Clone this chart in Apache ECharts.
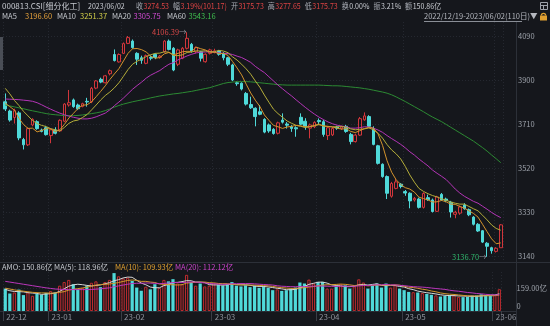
<!DOCTYPE html>
<html>
<head>
<meta charset="utf-8">
<script src="https://cdn.jsdelivr.net/npm/echarts@6/dist/echarts.min.js"></script>
<style>
html,body{margin:0;padding:0;background:#15171c;}
#chart{width:550px;height:326px;}
</style>
</head>
<body>
<div id="chart"></div>
<script>
// Trading calendar, one row per month
const tradingDays = [
  ['2022-12', [19,20,21,22,23,26,27,28,29,30]],
  ['2023-01', [3,4,5,6,9,10,11,12,13,16,17,18,19,20,30,31]],
  ['2023-02', [1,2,3,6,7,8,9,10,13,14,15,16,17,20,21,22,23,24,27,28]],
  ['2023-03', [1,2,3,6,7,8,9,10,13,14,15,16,17,20,21,22,23,24,27,28,29,30,31]],
  ['2023-04', [3,4,6,7,10,11,12,13,14,17,18,19,20,21,24,25,26,27,28]],
  ['2023-05', [4,5,8,9,10,11,12,15,16,17,18,19,22,23,24,25,26,29,30,31]],
  ['2023-06', [1,2]]
];
const monthLabels = ['22-12','23-01','23-02','23-03','23-04','23-05','23-06'];
const priceTicks = [3140, 3330, 3520, 3710, 3900, 4090];
const amoTicks = [0, 159];

const opens = [3806,3766,3738,3758,3643,3620,3706,3720,3684,3694,
3660,3684,3680,3722,3792,3814,3792,3786,3808,3806,
3865,3903,3888,3927,4010,3978,4015,4058,4068,4015,
3996,3972,3998,4011,3998,4022,4068,4037,3968,3994,
4037,4054,4022,4022,3979,4015,4020,4025,4015,3996,
3965,3888,3886,3842,3794,3778,3763,3730,3706,3687,
3670,3727,3710,3698,3694,3739,3722,3692,3698,3725,
3720,3660,3663,3697,3690,3700,3665,3634,3662,3728,
3742,3690,3616,3536,3483,3398,3432,3450,3418,3411,
3382,3386,3350,3392,3382,3333,3406,3386,3372,3320,
3325,3360,3340,3308,3277,3249,3195,3176,3160,3175.73];
const closes = [3775,3727,3768,3650,3620,3690,3730,3690,3678,3664,
3685,3670,3726,3796,3802,3785,3776,3798,3805,3864,
3896,3891,3918,3940,3984,4010,4057,4083,4040,3990,
3985,4005,3994,3997,4003,4068,4032,3943,4030,4037,
4080,4025,4040,3994,4011,4030,4026,4011,3996,3968,
3900,3884,3861,3796,3780,3742,3752,3675,3680,3669,
3715,3718,3705,3691,3689,3709,3698,3706,3717,3720,
3665,3694,3691,3692,3697,3678,3634,3662,3733,3745,
3700,3622,3540,3483,3411,3453,3460,3440,3412,3378,
3389,3350,3410,3383,3332,3395,3382,3379,3330,3329,
3352,3344,3318,3277,3248,3200,3182,3163,3173.36,3274.53];
const lows = [3766,3720,3712,3640,3600,3615,3700,3685,3674,3660,
3627,3665,3676,3718,3785,3780,3770,3782,3785,3800,
3860,3886,3885,3920,3980,3975,4012,4055,4035,3965,
3970,3968,3985,3990,3992,4018,4028,3938,3960,3990,
4032,4018,4015,3980,3975,4010,4015,4005,3985,3960,
3895,3875,3855,3790,3775,3700,3748,3670,3672,3664,
3665,3712,3690,3676,3655,3705,3685,3648,3692,3706,
3655,3641,3658,3685,3684,3672,3622,3630,3658,3724,
3696,3618,3535,3478,3386,3392,3428,3432,3400,3346,
3375,3345,3345,3378,3328,3330,3378,3372,3306,3303,
3318,3340,3312,3272,3244,3196,3136.70,3150,3155,3175.73];
const highs = [3842,3772,3776,3765,3650,3695,3735,3726,3690,3702,
3690,3696,3730,3800,3857,3820,3798,3802,3823,3870,
3900,3910,3922,3945,4032,4015,4062,4090,4075,4020,
4005,4010,4006,4015,4008,4072,4075,4042,4035,4042,
4106.39,4060,4045,4026,4015,4035,4035,4030,4020,4000,
3970,3895,3890,3848,3828,3782,3792,3735,3712,3692,
3720,3756,3718,3705,3700,3756,3735,3712,3722,3734,
3728,3698,3697,3702,3703,3706,3672,3668,3740,3760,
3748,3700,3620,3540,3488,3460,3472,3455,3425,3415,
3395,3392,3415,3405,3388,3400,3412,3392,3378,3335,
3358,3368,3345,3312,3282,3252,3200,3180,3178,3277.65];

const ma5 = [3800,3785,3770,3735,3708,3691,3692,3676,3682,3690,
3689,3677,3685,3708,3736,3756,3777,3791,3793,3806,
3828,3851,3875,3902,3926,3949,3982,4015,4035,4036,
4031,4021,4003,3994,3997,4013,4019,4009,4015,4022,
4024,4023,4042,4035,4030,4020,4020,4014,4015,4006,
3980,3952,3922,3882,3844,3813,3786,3749,3726,3704,
3698,3691,3697,3700,3704,3702,3698,3699,3704,3710,
3701,3700,3697,3692,3688,3690,3678,3673,3681,3690,
3695,3692,3668,3618,3551,3502,3469,3449,3435,3429,
3416,3394,3388,3382,3373,3374,3380,3374,3364,3363,
3354,3347,3335,3324,3308,3277,3245,3214,3193,3196.60];
const ma10 = [3864,3840,3812,3790,3765,3745,3725,3712,3704,3699,
3690,3685,3680,3695,3713,3723,3727,3738,3751,3771,
3792,3814,3833,3848,3866,3888,3916,3945,3968,3981,
3990,4001,4009,4015,4016,4022,4020,4006,4005,4009,
4019,4021,4026,4025,4026,4022,4022,4028,4025,4018,
4000,3986,3968,3948,3925,3896,3869,3835,3804,3774,
3755,3739,3723,3713,3704,3700,3695,3698,3702,3707,
3702,3699,3698,3698,3699,3696,3689,3685,3687,3689,
3693,3685,3670,3649,3621,3598,3581,3559,3527,3490,
3459,3432,3419,3409,3401,3395,3387,3381,3373,3368,
3364,3364,3354,3344,3335,3316,3296,3274,3259,3251.37];
const ma20 = [3818,3817,3816,3815,3813,3811,3808,3802,3793,3783,
3774,3765,3757,3750,3744,3739,3735,3732,3732,3735,
3741,3749,3757,3771,3789,3805,3822,3841,3860,3876,
3891,3908,3921,3931,3941,3955,3968,3975,3987,3995,
4004,4011,4017,4020,4021,4022,4021,4017,4015,4014,
4010,4003,3997,3987,3976,3959,3945,3932,3914,3896,
3878,3862,3846,3831,3814,3798,3782,3767,3753,3740,
3729,3719,3711,3705,3701,3698,3692,3692,3694,3698,
3697,3692,3684,3674,3660,3647,3635,3622,3607,3590,
3576,3559,3544,3529,3511,3497,3484,3470,3450,3429,
3412,3398,3387,3376,3368,3355,3342,3328,3316,3305.75];
const ma60 = [3792,3788,3784,3780,3776,3771,3767,3763,3759,3755,
3752,3750,3748,3746,3746,3746,3747,3749,3752,3755,
3758,3762,3768,3775,3783,3790,3796,3801,3806,3810,
3814,3818,3823,3827,3831,3834,3837,3840,3842,3845,
3848,3851,3855,3859,3863,3867,3873,3879,3885,3889,
3891,3893,3893,3893,3892,3890,3888,3886,3884,3882,
3880,3879,3878,3878,3878,3878,3878,3878,3878,3878,
3877,3876,3875,3875,3874,3872,3870,3868,3866,3863,
3860,3856,3852,3848,3843,3836,3827,3817,3807,3796,
3785,3774,3763,3751,3740,3730,3720,3708,3696,3684,
3672,3660,3648,3636,3622,3608,3593,3576,3560,3543.16];

// Turnover, 亿
const amo = [155,121,128,148,110,128,105,118,112,125,
138,128,175,200,215,185,150,160,175,195,
205,165,200,215,262,240,225,230,208,162,
140,168,150,185,160,215,205,220,190,185,
250,200,175,190,170,175,190,180,175,185,
200,175,170,178,165,175,160,172,160,144,
150,139,144,155,162,197,190,217,190,201,
201,155,155,170,185,178,155,170,219,197,
155,178,190,162,190,162,178,155,144,132,
130,128,124,118,112,108,100,104,110,109.1,
98,96,97,106.5,107,115,110,108,110.94,150.86];
const amoMa5 = [150,140,135,134,132.4,127,123.8,121.8,114.6,117.6,
119.6,124.2,135.6,153.2,171.2,180.6,185,182,177,173,
177,180,188,196,209.4,216.4,228.4,234.4,233,213,
193,181.6,165.6,161,160.6,175.6,183,197,198,203,
210,209,200,200,197,182,180,181,178,181,
186,183,181,181.6,177.6,172.6,169.6,170,166.4,162.2,
157.2,153,147.4,146.4,150,159.4,169.6,184.2,191.2,199,
199.8,192.8,180.4,176.4,173.2,168.6,168.6,171.6,181.4,183.8,
179.2,183.8,187.8,176.4,175,176.4,176.4,169.4,165.8,154.2,
147.8,137.8,131.6,126.4,122.4,118,112.4,108.4,106.8,106.2,
104.2,103.4,102,101.3,100.9,104.3,107.1,109.3,110.2,118.96];
const amoMa10 = [158,152,146,141,137,133,129,127,125,125,
123.3,124,128.7,133.9,144.4,150.1,154.6,158.8,165.1,172.1,
178.8,182.5,185,186.5,191.2,196.7,204.2,211.2,214.5,211.2,
204.7,205,200,197,186.8,184.3,182.3,181.3,179.5,181.8,
192.8,196,198.5,199,200,196,194.5,190.5,189,189,
184,181.5,181,179.8,179.3,179.3,176.3,175.5,174,169.9,
164.9,161.3,158.7,156.4,156.1,158.3,161.3,165.8,168.8,174.5,
179.6,181.2,182.3,183.8,186.1,184.2,180.7,176,178.9,178.5,
173.9,176.2,179.7,178.9,179.4,177.8,180.1,178.6,171.1,164.6,
162.1,157.1,150.5,146.1,138.3,132.9,125.1,120,116.6,114.3,
111.1,107.9,105.2,104.1,103.6,104.3,105.3,105.7,105.8,109.93];
const amoMa20 = [205,200,195,190,185,180,175,170,165,160,
156,152,150,149,148,148,148,148,148,148.6,
151,153.3,156.9,160.2,167.8,173.4,179.4,185,189.8,191.7,
191.8,193.8,192.5,191.8,189,190.5,193.3,196.3,197,196.5,
198.8,200.5,199.3,198,193.4,190.2,188.4,185.9,184.3,185.4,
188.4,188.8,189.8,189.4,189.7,187.7,185.4,183,181.5,179.5,
174.5,171.4,169.9,168.1,167.7,168.8,168.8,170.7,171.4,172.2,
172.3,171.3,170.5,170.1,171.1,171.3,171,170.9,173.9,176.5,
176.8,178.7,181,181.4,182.8,181,180.4,177.3,175,171.6,
168,166.7,165.1,162.5,158.9,155.4,152.6,149.3,143.9,139.5,
136.6,132.5,127.9,125.1,120.9,118.6,115.2,112.8,111.2,112.12];

// ---- derived tables ----
const dates = [];
const monthStart = {};
tradingDays.forEach(([m, days], k) => {
  monthStart[dates.length] = monthLabels[k];
  days.forEach(d => dates.push(m + '-' + String(d).padStart(2, '0')));
});
const isMonthStart = idx => monthStart[idx] !== undefined;
const candles = dates.map((_, i) => [opens[i], closes[i], lows[i], highs[i]]);

const UP = '#d2363b', DOWN = '#4fd9d9';
const BG = '#15171c';
const FONT = '"Noto Sans CJK SC","Noto Sans",sans-serif';
const GRID_LINE = '#252830';

const volumeBars = amo.map((v, i) => closes[i] >= opens[i]
  ? {value: v, itemStyle: {color: 'rgba(0,0,0,0)', borderColor: '#bf2c2f', borderWidth: 1}}
  : {value: v, itemStyle: {color: DOWN}});

let hiIdx = 0, loIdx = 0;
highs.forEach((v, i) => { if (v > highs[hiIdx]) hiIdx = i; });
lows.forEach((v, i) => { if (v < lows[loIdx]) loIdx = i; });

const last = dates.length - 1;
const prevClose = closes[last - 1];
const chg = closes[last] - prevClose;
const pct = chg / prevClose * 100;
const amp = (highs[last] - lows[last]) / prevClose * 100;
const fmt = v => v.toFixed(2);
const d = dates[last].replace(/-/g, '/');
const d0 = dates[0].replace(/-/g, '/');

// text helper: size in px, optional horizontal squeeze
function txt(x, y, text, fill, size, sx) {
  return {type: 'text', x: x, y: y, scaleX: sx || 1, silent: true,
    style: {text: text, fill: fill, font: (size || 7.5) + 'px ' + FONT, align: 'left', verticalAlign: 'middle'}};
}
const measureCtx = document.createElement('canvas').getContext('2d');
function textWidth(text, size) {
  measureCtx.font = size + 'px ' + FONT;
  return measureCtx.measureText(text).width;
}
const GREY = '#c6c9cf', LABEL = '#a9adb5', RED = '#e04444';

// quote line: label/value pairs laid out one after another
const Q_SIZE = 8, Q_SX = 0.88;
const quotePairs = [
  ['收', fmt(closes[last]), RED],
  ['幅', pct.toFixed(2) + '%(' + fmt(chg) + ')', RED],
  ['开', fmt(opens[last]), RED],
  ['高', fmt(highs[last]), RED],
  ['低', fmt(lows[last]), RED],
  ['换', '0.00%', GREY],
  ['振', amp.toFixed(2) + '%', GREY],
  ['额', fmt(amo[last]) + '亿', GREY]
];
const quoteItems = [txt(88, 6, d, GREY, Q_SIZE, Q_SX)];
let qx = 136;
quotePairs.forEach(([label, value, color]) => {
  quoteItems.push(txt(qx, 6, label, LABEL, Q_SIZE, Q_SX));
  qx += textWidth(label, Q_SIZE) * Q_SX + 0.5;
  quoteItems.push(txt(qx, 6, value, color, Q_SIZE, Q_SX));
  qx += textWidth(value, Q_SIZE) * Q_SX + 4;
});

const chart = echarts.init(document.getElementById('chart'), null, {renderer: 'canvas'});

const option = {
  backgroundColor: BG,
  animation: false,
  textStyle: {fontFamily: FONT},
  grid: [
    {left: 3, width: 500, top: 22, height: 240},
    {left: 3, width: 500, top: 272, height: 39}
  ],
  xAxis: [
    {type: 'category', gridIndex: 0, data: dates, boundaryGap: true,
      axisLine: {show: false}, axisTick: {show: false}, axisLabel: {show: false},
      splitLine: {show: true, interval: isMonthStart, lineStyle: {color: GRID_LINE, type: [1, 2]}}},
    {type: 'category', gridIndex: 1, data: dates, boundaryGap: true,
      axisLine: {show: false},
      axisTick: {show: true, interval: isMonthStart, length: 10, lineStyle: {color: '#3a3e46'}},
      axisLabel: {interval: isMonthStart, formatter: (v, idx) => monthStart[idx] || '',
        align: 'left', color: '#8d919a', fontSize: 8, margin: 2, padding: [0, 0, 0, 1]},
      splitLine: {show: true, interval: isMonthStart, lineStyle: {color: GRID_LINE, type: [1, 2]}}}
  ],
  yAxis: [
    {type: 'value', gridIndex: 0, position: 'right', offset: 13, min: 3114.1, max: 4150.45,
      axisLine: {show: false},
      axisTick: {show: false, customValues: priceTicks},
      axisLabel: {customValues: priceTicks, color: '#9ba0a8', fontSize: 7.5, margin: 2,
        formatter: v => String(Math.round(v))},
      splitLine: {show: true, lineStyle: {color: GRID_LINE, type: [1, 2]}}},
    {type: 'value', gridIndex: 1, position: 'right', offset: 13, min: 0, max: 269.6,
      axisLine: {show: false},
      axisTick: {show: false, customValues: amoTicks},
      axisLabel: {customValues: amoTicks, margin: 2,
        formatter: v => v === 0 ? '{z|0}' : '{n|' + fmt(v) + '亿}',
        rich: {
          z: {color: '#9ba0a8', fontSize: 7.5, padding: [0, 0, 10, 0]},
          n: {color: '#9ba0a8', fontSize: 7.5}
        }},
      splitLine: {show: true, lineStyle: {color: GRID_LINE, type: [1, 2]}}}
  ],
  series: [
    {name: 'K', type: 'candlestick', xAxisIndex: 0, yAxisIndex: 0, data: candles, barWidth: 3.2,
      itemStyle: {color: 'rgba(0,0,0,0)', color0: DOWN, borderColor: UP, borderColor0: DOWN, borderWidth: 1},
      markPoint: {
        silent: true, symbol: 'circle', symbolSize: 1, itemStyle: {color: 'rgba(0,0,0,0)'},
        label: {position: 'left', distance: 0},
        data: [
          {coord: [hiIdx, highs[hiIdx]], value: highs[hiIdx],
            label: {formatter: '{v|' + fmt(highs[hiIdx]) + '}{a|→}',
              rich: {v: {color: '#d64848', fontSize: 7.5}, a: {color: '#8e929a', fontSize: 7.5}}}},
          {coord: [loIdx, lows[loIdx]], value: lows[loIdx],
            label: {formatter: '{v|' + fmt(lows[loIdx]) + '}{a|→}',
              rich: {v: {color: '#2fb36a', fontSize: 7.5}, a: {color: '#8e929a', fontSize: 7.5}}}}
        ]
      }},
    {name: 'MA60', type: 'line', data: ma60, symbol: 'none', lineStyle: {width: 1, color: '#2c8a33'}, z: 3},
    {name: 'MA20', type: 'line', data: ma20, symbol: 'none', lineStyle: {width: 1, color: '#b334b6'}, z: 3},
    {name: 'MA10', type: 'line', data: ma10, symbol: 'none', lineStyle: {width: 1, color: '#b4ad3a'}, z: 3},
    {name: 'MA5', type: 'line', data: ma5, symbol: 'none', lineStyle: {width: 1, color: '#d2922c'}, z: 3},
    {name: 'AMO', type: 'bar', xAxisIndex: 1, yAxisIndex: 1, data: volumeBars, barWidth: 3.2},
    {name: 'AMO MA5', type: 'line', xAxisIndex: 1, yAxisIndex: 1, data: amoMa5, symbol: 'none', lineStyle: {width: 1, color: '#d6d6d6'}, z: 3},
    {name: 'AMO MA10', type: 'line', xAxisIndex: 1, yAxisIndex: 1, data: amoMa10, symbol: 'none', lineStyle: {width: 1, color: '#d2962c'}, z: 3},
    {name: 'AMO MA20', type: 'line', xAxisIndex: 1, yAxisIndex: 1, data: amoMa20, symbol: 'none', lineStyle: {width: 1, color: '#bb36bb'}, z: 3}
  ],
  graphic: [
    // frame lines
    {type: 'line', silent: true, shape: {x1: 516.5, y1: 22, x2: 516.5, y2: 326}, style: {stroke: '#2c3038', lineWidth: 1}},
    {type: 'line', silent: true, shape: {x1: 0, y1: 262.5, x2: 550, y2: 262.5}, style: {stroke: '#2c3038', lineWidth: 1}},
    {type: 'line', silent: true, shape: {x1: 0, y1: 311.5, x2: 516, y2: 311.5}, style: {stroke: '#2c3038', lineWidth: 1}},
    {type: 'rect', silent: true, shape: {x: 0, y: 37, width: 3, height: 33}, style: {fill: '#4a4e56'}},
    // quote header
    txt(2, 6, '000813.CSI[细分化工]', GREY, 8),
    ...quoteItems,
    {type: 'rect', silent: true, shape: {x: 540.5, y: 2.5, width: 7, height: 7}, style: {fill: 'none', stroke: '#9ea2aa', lineWidth: 1}},
    {type: 'line', silent: true, shape: {x1: 540.5, y1: 5.5, x2: 547.5, y2: 5.5}, style: {stroke: '#9ea2aa', lineWidth: 1}},
    {type: 'line', silent: true, shape: {x1: 543.5, y1: 5.5, x2: 543.5, y2: 9.5}, style: {stroke: '#9ea2aa', lineWidth: 1}},
    // moving-average legend
    txt(2, 16, 'MA5', GREY), txt(25, 16, fmt(ma5[last]), '#e6a23c'),
    txt(57, 16, 'MA10', GREY), txt(80, 16, fmt(ma10[last]), '#d6d24a'),
    txt(112, 16, 'MA20', GREY), txt(133.5, 16, fmt(ma20[last]), '#d24bd4'),
    txt(167, 16, 'MA60', GREY), txt(188.5, 16, fmt(ma60[last]), '#3fbf4f'),
    txt(424, 16, d0 + '-' + d + '(' + dates.length + '日)▼', '#b4b7be'),
    {type: 'line', silent: true, shape: {x1: 424, y1: 21.5, x2: 522, y2: 21.5}, style: {stroke: '#8a8e96', lineWidth: 1}},
    {type: 'arc', silent: true, shape: {cx: 543.5, cy: 15.5, r: 2.2, startAngle: Math.PI, endAngle: Math.PI * 2}, style: {stroke: '#e0a030', fill: 'none', lineWidth: 1.2}},
    {type: 'rect', silent: true, shape: {x: 540, y: 15.5, width: 7, height: 5}, style: {fill: '#e0a030'}},
    // turnover legend
    txt(2, 267, 'AMO: ' + fmt(amo[last]) + '亿 MA(5): ' + fmt(amoMa5[last]) + '亿', GREY),
    txt(115, 267, 'MA(10): ' + fmt(amoMa10[last]) + '亿', '#e0a030'),
    txt(175, 267, 'MA(20): ' + fmt(amoMa20[last]) + '亿', '#cc44cc')
  ]
};
chart.setOption(option);
</script>
</body>
</html>
